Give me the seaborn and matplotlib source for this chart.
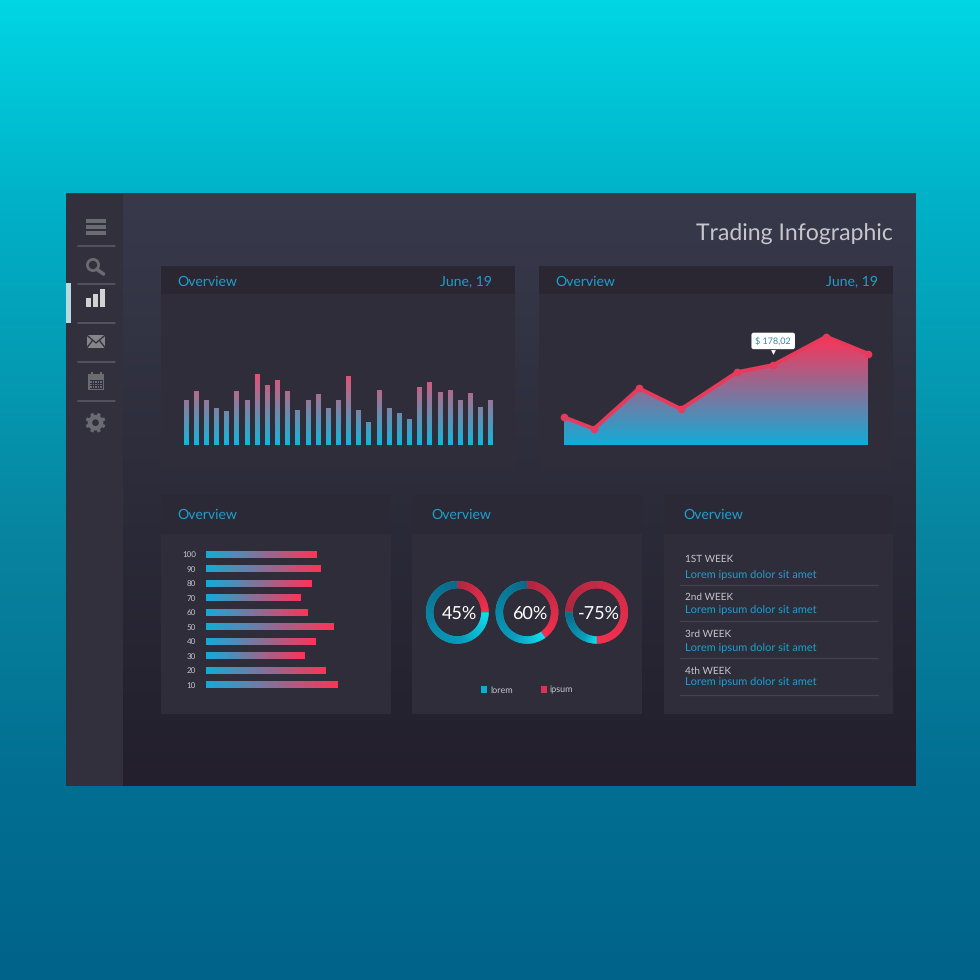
"""Trading dashboard infographic, redrawn with seaborn and matplotlib."""

import matplotlib

matplotlib.use("Agg")
import matplotlib.pyplot as plt
import matplotlib.transforms as mtransforms
import numpy as np
import seaborn as sns
from matplotlib.colors import LinearSegmentedColormap
from matplotlib.patches import Circle, Patch, Polygon, Rectangle

# ---- data -------------------------------------------------------------------

TITLE = "Trading Infographic"
HEADER = "Overview"
DATE = "June, 19"

column_values = [45, 54, 45, 37, 34, 54, 45, 71, 60, 65, 54, 35, 45, 51, 37, 45,
                 69, 35, 23, 55, 37, 32, 26, 58, 63, 53, 55, 45, 52, 38, 45]

trade_days = [0, 30, 75, 117, 173, 209, 262, 304]
trade_values = [62, 36, 126, 80, 162, 178.02, 241, 203]
TOOLTIP = "$ 178,02"

bar_labels = ["100", "90", "80", "70", "60", "50", "40", "30", "20", "10"]
bar_values = [110, 114, 105, 94, 101, 127, 109, 98, 119, 131]

donut_labels = ["45%", "60%", "-75%"]
donut_ipsum = [25, 40, 75]
donut_lorem = [75, 60, 25]
legend_names = ["lorem", "ipsum"]

week_labels = ["1ST WEEK", "2nd WEEK", "3rd WEEK", "4th WEEK"]
week_text = "Lorem ipsum dolor sit amet"

# ---- style ------------------------------------------------------------------

CYAN = "#0fb8dc"
RED = "#ff3358"
BLUE_TEXT = "#1f9fcb"
GREY_TEXT = "#c6c6cc"
ICON = "#6b6b72"
BODY = "#302d3a"
HEAD = "#2a2733"

sns.set_theme(style="dark")
plt.rcParams["font.family"] = ["Lato", "DejaVu Sans"]
plt.rcParams["text.hinting"] = "no_hinting"
plt.rcParams["text.hinting_factor"] = 1

column_cmap = LinearSegmentedColormap.from_list("col", [CYAN, "#ea4f70"])
ramp_cmap = LinearSegmentedColormap.from_list("ramp", ["#12acd8", RED])
lorem_cmap = LinearSegmentedColormap.from_list(
    "lorem", [(0, "#10e0ee"), (0.3, "#0a9cbc"), (1, "#0b6988")]
)
ipsum_cmap = LinearSegmentedColormap.from_list("ipsum", ["#ad2740", "#f6304f"])
sky_cmap = LinearSegmentedColormap.from_list(
    "sky",
    [(0, "#00d6e4"), (0.2, "#00b2c8"), (0.55, "#08849f"), (0.8, "#026f92"), (1, "#00638a")],
)
panel_cmap = LinearSegmentedColormap.from_list(
    "panel", [(0, "#383a4c"), (0.45, "#2d2d3b"), (1, "#231f2c")]
)

fig = plt.figure(figsize=(9.8, 9.8), dpi=100)


def axes_px(x0, y0, x1, y1):
    """Axes from pixel corners, with y counted from the top of the picture."""
    ax = fig.add_axes([x0 / 980, 1 - y1 / 980, (x1 - x0) / 980, (y1 - y0) / 980])
    ax.patch.set_alpha(0)
    return ax


def gradient(ax, cmap, extent, patch=None, horizontal=False, zorder=3):
    ramp = np.linspace(0, 1, 256)
    ramp = ramp[None, :] if horizontal else ramp[:, None]
    im = ax.imshow(ramp, cmap=cmap, extent=extent, origin="lower", aspect="auto", zorder=zorder)
    if patch is not None:
        im.set_clip_path(patch)
    return im


# ---- chrome -----------------------------------------------------------------

bg = axes_px(0, 0, 980, 980)
bg.axis("off")
bg.imshow(np.linspace(0, 1, 256)[:, None], cmap=sky_cmap, extent=(0, 980, 980, 0),
          aspect="auto", zorder=0)
bg.imshow(np.linspace(0, 1, 256)[:, None], cmap=panel_cmap, extent=(66, 915, 786, 194),
          aspect="auto", zorder=1)
bg.set_xlim(0, 980)
bg.set_ylim(980, 0)


def rect(x0, y0, x1, y1, color, zorder=2):
    bg.add_patch(Rectangle((x0, y0), x1 - x0, y1 - y0, fc=color, ec="none", zorder=zorder))


rect(66, 194, 123, 786, "#32303d")
rect(66, 283, 71, 323, "#b9d9e2")

for x0, x1, y0, y1, y2, head in [(161, 515, 266, 294, 470, HEAD), (539, 893, 266, 294, 470, HEAD),
                                 (161, 391, 495, 534, 714, "#2b2936"),
                                 (412, 642, 495, 534, 714, "#2b2936"),
                                 (664, 893, 495, 534, 714, "#2b2936")]:
    rect(x0, y0, x1, y1, head)
    rect(x0, y1, x1, y2, BODY)

bg.text(893, 234.5, TITLE, ha="right", va="center", fontsize=16.9, color=GREY_TEXT, zorder=5)
for x, y in [(177.5, 286), (555.5, 286), (177.5, 519), (431.5, 519), (683.5, 519)]:
    bg.text(x, y, HEADER, ha="left", va="baseline", fontsize=10.2, color=BLUE_TEXT, zorder=5)
for x in (492, 878):
    bg.text(x, 286, DATE, ha="right", va="baseline", fontsize=10.2, color=BLUE_TEXT, zorder=5)

for y in (245.7, 284.3, 323, 361.7, 400.7):
    bg.plot([78, 115], [y, y], color="#5e5c68", lw=1.1, zorder=4)

# menu, search, stats, mail, calendar and settings icons
for y in (219, 225, 231):
    rect(85.5, y, 106, y + 3.6, ICON, zorder=4)
bg.add_patch(Circle((93, 265), 5.6, fc="none", ec=ICON, lw=2, zorder=4))
bg.plot([97, 103.5], [269.5, 274], color=ICON, lw=2.6, solid_capstyle="round", zorder=4)
for x0, top in [(86.3, 297.7), (93.3, 293.7), (100.3, 289.3)]:
    rect(x0, top, x0 + 5, 307, "#d2d2d4", zorder=4)
rect(86.7, 335, 105.3, 348, "#85858a", zorder=4)
bg.plot([86.7, 96, 105.3], [335, 343, 335], color="#32303d", lw=1, zorder=5)
bg.plot([86.7, 92.5], [348, 340.5], color="#32303d", lw=1, zorder=5)
bg.plot([105.3, 99.5], [348, 340.5], color="#32303d", lw=1, zorder=5)
rect(87.7, 374, 104.3, 390, ICON, zorder=4)
rect(89.5, 380, 102.5, 388.5, "#32303d", zorder=5)
for x in np.arange(90.2, 102, 2.5):
    for y in (381, 383.6, 386.2):
        rect(x, y, x + 1.5, y + 1.6, ICON, zorder=6)
for x in (91.5, 100.5):
    rect(x - 1, 371.5, x + 1, 376, ICON, zorder=6)
# gear: a thick ring with eight short teeth
bg.add_patch(Circle((95.5, 422.7), 5.6, fc="#32303d", ec=ICON, lw=3.2, zorder=4))
for a in np.arange(8) * np.pi / 4 + np.pi / 8:
    bg.plot([95.5 + 7 * np.cos(a), 95.5 + 10 * np.cos(a)],
            [422.7 + 7 * np.sin(a), 422.7 + 10 * np.sin(a)],
            color=ICON, lw=2.4, solid_capstyle="butt", zorder=4)

# ---- vertical bars ----------------------------------------------------------

ax = axes_px(180.6, 345, 495.4, 445)
sns.barplot(x=list(range(len(column_values))), y=column_values, color=CYAN, width=0.4,
            saturation=1, linewidth=0, ax=ax)
for bar in ax.patches:
    x0 = bar.get_x()
    gradient(ax, column_cmap, (x0, x0 + bar.get_width(), 0, 72), bar)
ax.set_xlim(-0.5, len(column_values) - 0.5)
ax.set_ylim(0, 100)
ax.axis("off")

# ---- area chart -------------------------------------------------------------

ax = axes_px(564, 320, 868.3, 445)
area = ax.fill_between(trade_days, trade_values, 0, fc="none", ec="none")
outline = Polygon(area.get_paths()[0].vertices, transform=ax.transData, fc="none", ec="none")
ax.add_patch(outline)
gradient(ax, ramp_cmap, (0, 304, 0, 241), outline, zorder=2)
sns.lineplot(x=trade_days, y=trade_values, color="#e83a5c", lw=2.8, marker="o", ms=5.5,
             mec="none", clip_on=False, zorder=4, ax=ax)
ax.set_xlim(0, 304)
ax.set_ylim(0, 278)
ax.axis("off")
tip_day, tip_value = trade_days[5], trade_values[5]
ax.annotate(TOOLTIP, (tip_day, tip_value), xytext=(0, 17.3), textcoords="offset points",
            ha="center", va="center", fontsize=6.3, color="#2f8a9e", zorder=6,
            bbox=dict(boxstyle="round,pad=0.45,rounding_size=0.25", fc="white", ec="none"))
tip_shift = mtransforms.offset_copy(ax.transData, fig, x=0, y=13, units="dots")
ax.plot(tip_day, tip_value, marker="v", ms=3.5, color="white", mec="none", zorder=6,
        transform=tip_shift, clip_on=False)

# ---- horizontal bars --------------------------------------------------------

ax = axes_px(206, 547.05, 386, 691.95)
sns.barplot(x=bar_values, y=bar_labels, order=bar_labels, orient="h", color=CYAN, width=0.48,
            saturation=1, linewidth=0, ax=ax)
for bar in ax.patches:
    y0 = bar.get_y()
    gradient(ax, ramp_cmap, (0, bar.get_width(), y0, y0 + bar.get_height()), bar, horizontal=True)
ax.set_xlim(0, 180)
ax.set_ylim(len(bar_labels) - 0.5, -0.5)
ax.set_xlabel("")
ax.set_ylabel("")
ax.set_xticks([])
ax.grid(False)
ax.tick_params(axis="y", length=0, pad=7.2, labelsize=6, labelcolor=GREY_TEXT)
sns.despine(ax=ax, left=True, bottom=True)

# ---- donuts -----------------------------------------------------------------

donut_centres = [457.3, 527, 596.7]
donut_starts = [90, 90, 180]
grid = np.linspace(-1.02, 1.02, 300)
gx, gy = np.meshgrid(grid, grid)
grid_angle = np.degrees(np.arctan2(gy, gx))

for cx, start, label, ipsum, lorem in zip(donut_centres, donut_starts, donut_labels,
                                          donut_ipsum, donut_lorem):
    ax = axes_px(cx - 32, 580.3, cx + 32, 644.3)
    wedges, _ = ax.pie([ipsum, lorem], startangle=start, counterclock=False, radius=1,
                       colors=[RED, CYAN], wedgeprops=dict(width=0.235, lw=0))
    for wedge, cmap in zip(wedges, (ipsum_cmap, lorem_cmap)):
        sweep = wedge.theta2 - wedge.theta1
        frac = np.clip(((wedge.theta2 - grid_angle) % 360) / sweep, 0, 1)
        im = ax.imshow(frac, cmap=cmap, vmin=0, vmax=1, extent=(-1.02, 1.02, -1.02, 1.02),
                       origin="lower", zorder=3)
        im.set_clip_path(wedge)
    ax.set_xlim(-1.02, 1.02)
    ax.set_ylim(-1.02, 1.02)
    ax.text(0.08, -0.06, label, ha="center", va="center", fontsize=13, color="white", zorder=5)

handles = [Patch(fc="#12a9d4", lw=0, label=legend_names[0]),
           Patch(fc="#dc3355", lw=0, label=legend_names[1])]
fig.legend(handles=handles, loc="center", bbox_to_anchor=(527 / 980, 1 - 690 / 980), ncol=2,
           frameon=False, fontsize=6.3, labelcolor=GREY_TEXT, handlelength=0.7, handleheight=0.7,
           columnspacing=3.2, handletextpad=0.3)

# ---- week list --------------------------------------------------------------

week_y = [559.5, 596.7, 633.7, 670.7]
text_y = [575, 609.7, 648, 682.4]
rule_y = [585.3, 620.7, 658.3, 695]
for label, y1, y2, y3 in zip(week_labels, week_y, text_y, rule_y):
    bg.text(685, y1, label, ha="left", va="center", fontsize=7.5, color=GREY_TEXT, zorder=5)
    bg.text(684.5, y2, week_text, ha="left", va="center", fontsize=8.05, color=BLUE_TEXT, zorder=5)
    bg.plot([680, 878], [y3, y3], color="#43414e", lw=0.9, zorder=4)

fig.savefig("out.png", dpi=100)
plt.close(fig)
